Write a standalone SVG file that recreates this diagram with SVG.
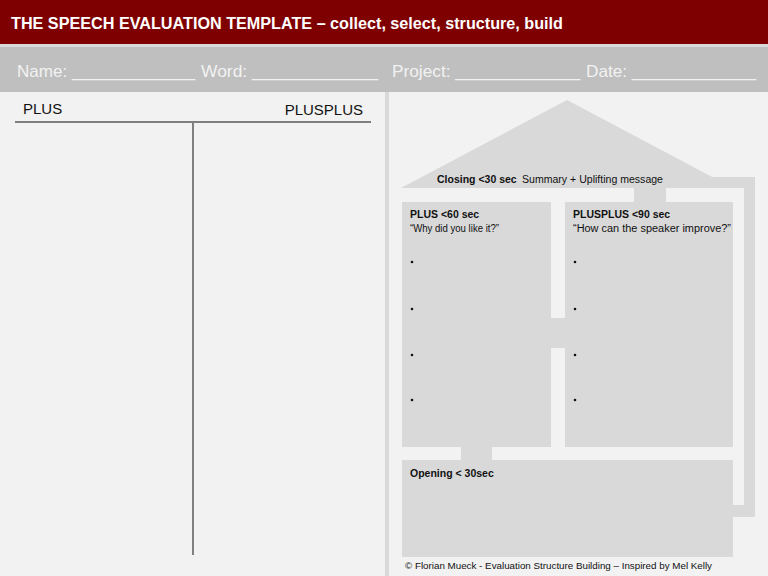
<svg xmlns="http://www.w3.org/2000/svg" width="768" height="576" viewBox="0 0 768 576">
<style>
text{font-family:"Liberation Sans",Arial,sans-serif;fill:#111}
.b{font-weight:bold}
.s{font-size:10.5px}
.shape{fill:#d9d9d9}
.line{stroke:#808080;stroke-width:2}
.form{fill:#f2f2f2;font-size:17px}
</style>
<rect width="768" height="576" fill="#f2f2f2"/>
<g id="header">
<rect x="0" y="0" width="768" height="44" fill="#7f0000"/>
<rect x="0" y="44" width="768" height="3" fill="#d9d9d9"/>
<text x="11" y="29" class="b" style="fill:#fff;font-size:16px" textLength="552" lengthAdjust="spacingAndGlyphs">THE SPEECH EVALUATION TEMPLATE – collect, select, structure, build</text>
</g>
<g id="form">
<rect x="0" y="47" width="768" height="45" fill="#bfbfbf"/>
<text x="17" y="77" class="form" textLength="178" lengthAdjust="spacingAndGlyphs">Name: _____________</text>
<text x="201" y="77" class="form" textLength="177" lengthAdjust="spacingAndGlyphs">Word: _____________</text>
<text x="392" y="77" class="form" textLength="188" lengthAdjust="spacingAndGlyphs">Project: _____________</text>
<text x="586" y="77" class="form" textLength="170" lengthAdjust="spacingAndGlyphs">Date: _____________</text>
</g>
<rect x="385" y="92" width="4" height="484" fill="#d9d9d9"/>
<g id="tchart">
<text x="23" y="114" style="font-size:15px">PLUS</text>
<text x="363" y="115" style="font-size:15px" text-anchor="end">PLUSPLUS</text>
<line class="line" x1="15" y1="122" x2="371" y2="122"/>
<line class="line" x1="193" y1="122" x2="193" y2="555"/>
</g>
<g id="connectors">
<rect class="shape" x="712" y="177" width="43" height="11"/>
<rect class="shape" x="744" y="177" width="11" height="340"/>
<rect class="shape" x="733" y="505" width="22" height="12"/>
<rect class="shape" x="634" y="187" width="32" height="16"/>
<rect class="shape" x="550" y="318" width="16" height="30"/>
<rect class="shape" x="461" y="446" width="31" height="15"/>
</g>
<g id="closing">
<polygon class="shape" points="401,188 567,100 733,188"/>
<text x="437" y="183" class="b s">Closing &lt;30 sec</text>
<text x="522" y="183" class="s" style="font-size:10px" textLength="141" lengthAdjust="spacingAndGlyphs">Summary + Uplifting message</text>
</g>
<g id="plus">
<rect class="shape" x="402" y="202" width="149" height="245"/>
<text x="410" y="218" class="b s">PLUS &lt;60 sec</text>
<text x="410" y="232" class="s" style="font-size:10px" textLength="89" lengthAdjust="spacingAndGlyphs">“Why did you like it?”</text>
<circle cx="412" cy="262" r="1.3" fill="#111"/>
<circle cx="412" cy="309" r="1.3" fill="#111"/>
<circle cx="412" cy="355" r="1.3" fill="#111"/>
<circle cx="412" cy="400" r="1.3" fill="#111"/>
</g>
<g id="plusplus">
<rect class="shape" x="565" y="202" width="168" height="245"/>
<text x="573" y="218" class="b s">PLUSPLUS &lt;90 sec</text>
<text x="573" y="232" class="s" style="font-size:10px" textLength="158" lengthAdjust="spacingAndGlyphs">“How can the speaker improve?”</text>
<circle cx="575" cy="262" r="1.3" fill="#111"/>
<circle cx="575" cy="309" r="1.3" fill="#111"/>
<circle cx="575" cy="355" r="1.3" fill="#111"/>
<circle cx="575" cy="400" r="1.3" fill="#111"/>
</g>
<g id="opening">
<rect class="shape" x="402" y="460" width="331" height="97"/>
<text x="410" y="477" class="b s">Opening &lt; 30sec</text>
</g>
<text x="405" y="569" style="font-size:9px" textLength="307" lengthAdjust="spacingAndGlyphs">© Florian Mueck - Evaluation Structure Building – Inspired by Mel Kelly</text>
</svg>
